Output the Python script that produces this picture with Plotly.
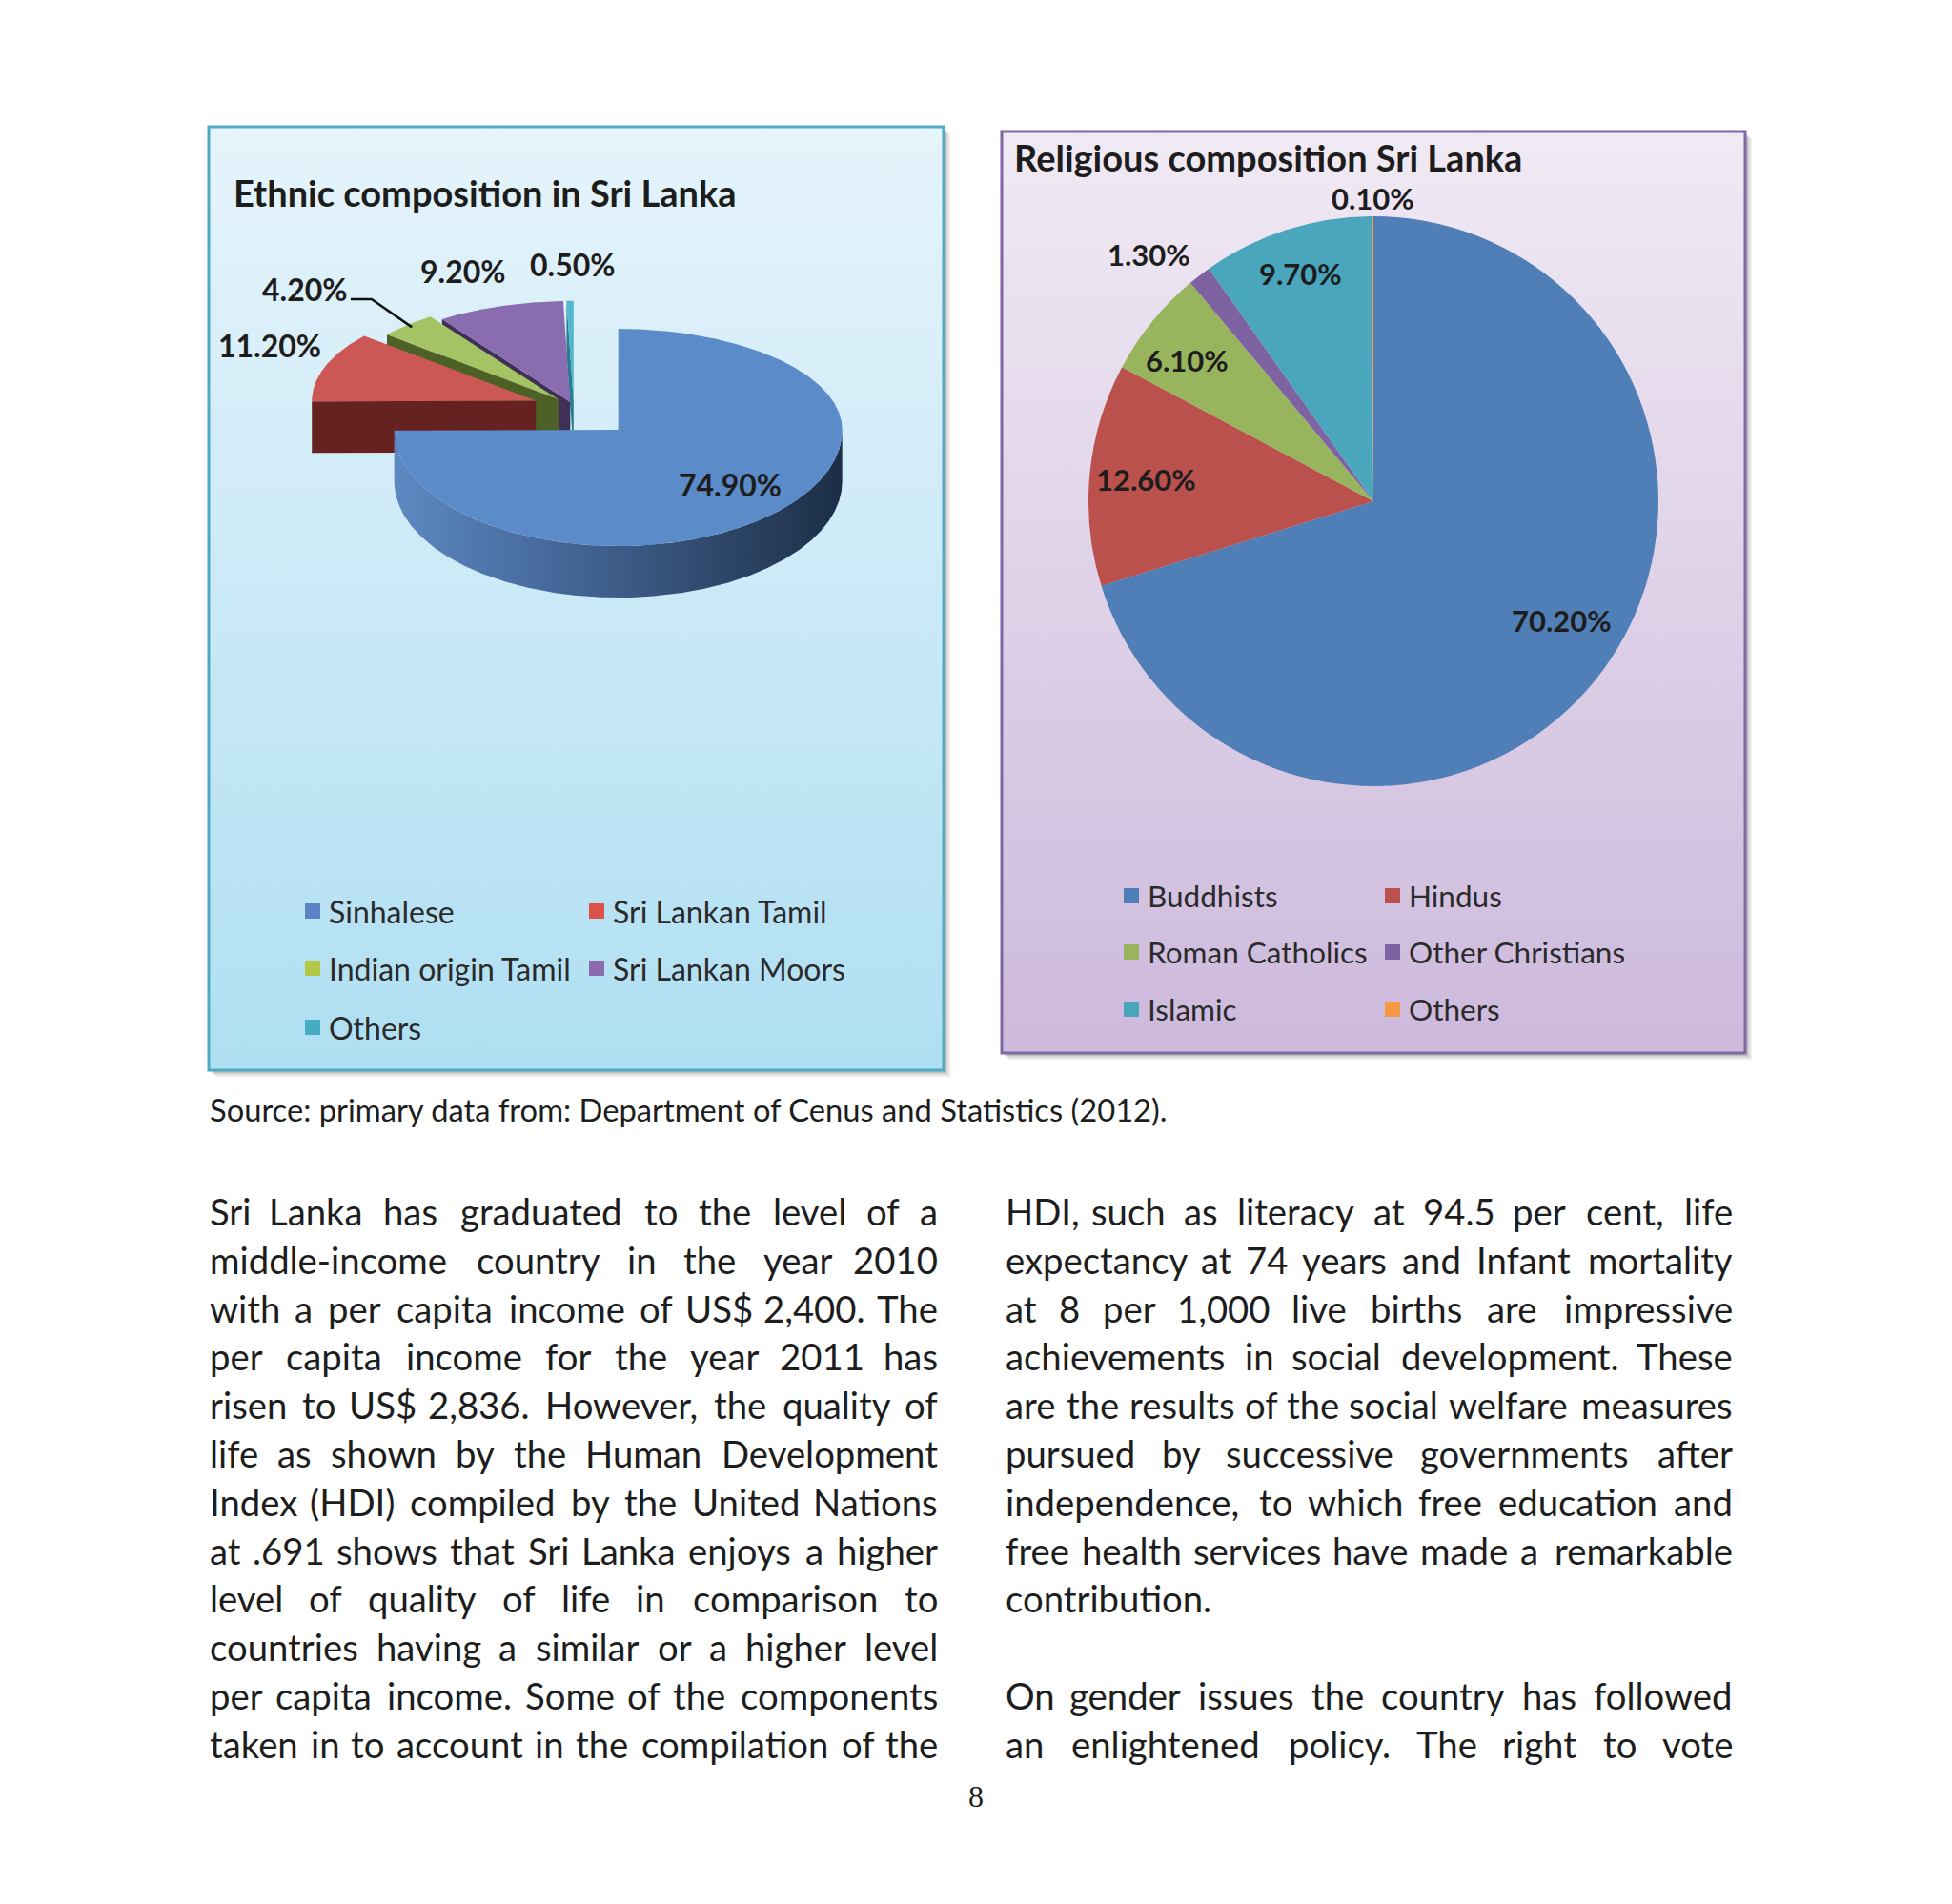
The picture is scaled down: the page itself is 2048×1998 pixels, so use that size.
import numpy as np
import plotly.graph_objects as go

# ---------------- data ----------------
ethnic_title = "Ethnic composition in Sri Lanka"
ethnic_labels = ["Sinhalese", "Sri Lankan Tamil", "Indian origin Tamil", "Sri Lankan Moors", "Others"]
ethnic_values = [74.9, 11.2, 4.2, 9.2, 0.5]

religion_title = "Religious composition Sri Lanka"
religion_labels = ["Buddhists", "Hindus", "Roman Catholics", "Other Christians", "Islamic", "Others"]
religion_values = [70.2, 12.6, 6.1, 1.3, 9.7, 0.1]

source_text = "Source: primary data from: Department of Cenus and Statistics (2012)."

left_column = [
    "Sri Lanka has graduated to the level of a",
    "middle-income country in the year 2010",
    "with a per capita income of US$ 2,400. The",
    "per capita income for the year 2011 has",
    "risen to US$ 2,836. However, the quality of",
    "life as shown by the Human Development",
    "Index (HDI) compiled by the United Nations",
    "at .691 shows that Sri Lanka enjoys a higher",
    "level of quality of life in comparison to",
    "countries having a similar or a higher level",
    "per capita income. Some of the components",
    "taken in to account in the compilation of the",
]
right_column = [
    "HDI, such as literacy at 94.5 per cent, life",
    "expectancy at 74 years and Infant mortality",
    "at 8 per 1,000 live births are impressive",
    "achievements in social development. These",
    "are the results of the social welfare measures",
    "pursued by successive governments after",
    "independence, to which free education and",
    "free health services have made a remarkable",
    "contribution.",
    "",
    "On gender issues the country has followed",
    "an enlightened policy. The right to vote",
]
right_justified = [True, True, True, True, True, True, True, True, False, False, True, True]
page_number = "8"

# ---------------- page geometry / style ----------------
W, H = 2048, 1998
OFF = 8                      # default body margin of the html page
WF, HF = W - 2 * OFF, H - 2 * OFF
FONT = "Lato, 'Open Sans', sans-serif"
INK = "#1d1d1d"

ethnic_top = ["#5b8bc8", "#cb5854", "#a4c362", "#8a6db0", "#52b6cd"]
ethnic_side = ["#2c4a73", "#652220", "#4d6127", "#3f3058", "#2a7d90"]
ethnic_wall = [
    [[0, "#5d89c2"], [0.35, "#46699b"], [0.75, "#2c4566"], [1, "#1c2e46"]],
    [[0, "#7a2a27"], [1, "#5a1d1b"]],
    [[0, "#55692c"], [1, "#44561f"]],
    [[0, "#4a3a66"], [1, "#3a2c52"]],
    [[0, "#2f8799"], [1, "#236a78"]],
]
ethnic_legend_col = ["#5b82c4", "#dc5148", "#b4c943", "#8b6aae", "#45acc3"]
ethnic_pull = [0.28, 0.18, 0.10, 0.05, 0.05]
ethnic_label_k = [0.69, 1.31, 1.57, 1.38, 1.365]
ethnic_label_da = [1.4, -5.0, 3.7, 1.9, -0.8]

religion_colors = ["#4f7fb6", "#bb514c", "#98b45c", "#7d63a1", "#4aa6bc", "#f59843"]
religion_label_r = [0.78, 0.80, 0.82, 1.17, 0.84, 1.065]
religion_label_da = [4.0, 0.0, 2.0, 4.6, 0.0, 0.0]

# Calibri-like advance widths (em) used to estimate Lato text widths for justification
CAL = {" ": .226, ".": .252, ",": .250, "(": .303, ")": .303, "$": .507, "-": .306, ":": .268, "%": .715}
CAL.update(dict(zip("abcdefghijklmnopqrstuvwxyz",
                    [.479, .525, .423, .525, .498, .305, .471, .525, .229, .239, .455, .229, .799,
                     .525, .527, .525, .525, .349, .391, .335, .525, .452, .715, .433, .453, .395])))
CAL.update(dict(zip("ABCDEFGHIJKLMNOPQRSTUVWXYZ",
                    [.579, .544, .533, .615, .488, .459, .631, .623, .252, .319, .520, .420, .855,
                     .646, .662, .517, .673, .543, .459, .487, .642, .567, .890, .519, .487, .468])))
CAL.update({d: .507 for d in "0123456789"})
LATO_K = 1.086


def est_w(s, size):
    return sum(CAL.get(c, .5) for c in s) * size * LATO_K


fig = go.Figure()
annotations = []
shapes = []


def text(x, y, s, size, bold=False, xanchor="left", family=FONT, color=INK):
    if bold:
        s = "<b>" + s + "</b>"
    annotations.append(dict(x=x, y=y, xref="x", yref="y", text=s, showarrow=False,
                            xanchor=xanchor, yanchor="middle", borderpad=0,
                            font=dict(family=family, size=size, color=color)))


def poly(xs, ys, color=None, grad=None):
    kw = dict(x=list(xs), y=list(ys), mode="lines", fill="toself", line=dict(width=0),
              hoverinfo="skip", showlegend=False)
    if grad is not None:
        kw["fillgradient"] = grad
        kw["fillcolor"] = grad["colorscale"][0][1]
    else:
        kw["fillcolor"] = color
    fig.add_trace(go.Scatter(**kw))


# ---------------- chart boxes ----------------
boxes = [
    dict(x0=219, y0=133, x1=990, y1=1123, c0="#e6f4fb", c1="#afdff2", border="#4fa9c2"),
    dict(x0=1051, y0=138, x1=1831, y1=1105, c0="#f0eaf4", c1="#cdb9dc", border="#8066a3"),
]
for b in boxes:
    for d, a in ((7, 0.07), (5, 0.09), (3, 0.12)):
        shapes.append(dict(type="rect", xref="x", yref="y", x0=b["x0"] + d, y0=b["y0"] + d,
                           x1=b["x1"] + d, y1=b["y1"] + d, line=dict(width=0),
                           fillcolor=f"rgba(0,0,0,{a})", layer="below"))
    poly([b["x0"], b["x1"], b["x1"], b["x0"], b["x0"]], [b["y0"], b["y0"], b["y1"], b["y1"], b["y0"]],
         grad=dict(type="vertical", colorscale=[[0, b["c0"]], [1, b["c1"]]], start=b["y0"], stop=b["y1"]))
    shapes.append(dict(type="rect", xref="x", yref="y", x0=b["x0"], y0=b["y0"], x1=b["x1"], y1=b["y1"],
                       line=dict(color=b["border"], width=3), fillcolor="rgba(0,0,0,0)", layer="above"))

# ---------------- 3-D ethnic pie ----------------
CX, CY, RX, RYB, RYF, DEPTH = 602, 427, 235, 106, 122, 54


def ry_of(a):
    return np.where(np.sin(np.radians(a)) > 0, RYB, RYF)


def pie3d(values):
    total = float(sum(values))
    info, cum = [], 0.0
    for i, v in enumerate(values):
        hi = 90 - 360 * cum / total
        cum += v
        lo = 90 - 360 * cum / total
        mid = (lo + hi) / 2
        px = CX + ethnic_pull[i] * RX * np.cos(np.radians(mid))
        py = CY - ethnic_pull[i] * float(ry_of(mid)) * np.sin(np.radians(mid))
        info.append(dict(i=i, lo=lo, hi=hi, mid=mid, px=px, py=py))
    for d in sorted(info, key=lambda d: -np.sin(np.radians(d["mid"]))):
        i, px, py = d["i"], d["px"], d["py"]

        def P(a):
            r = np.radians(a)
            return px + RX * np.cos(r), py - ry_of(a) * np.sin(r)

        for a, vis in ((d["lo"], np.cos(np.radians(d["lo"])) > 1e-9),
                       (d["hi"], np.cos(np.radians(d["hi"])) < -1e-9)):
            if vis:
                x1, y1 = P(a)
                poly([px, x1, x1, px, px], [py, y1, y1 + DEPTH, py + DEPTH, py], ethnic_side[i])
        for k in range(-2, 3):
            a0, a1 = max(d["lo"], -180 + 360 * k), min(d["hi"], 360 * k)
            if a1 - a0 > 0.05:
                t = np.linspace(a0, a1, int((a1 - a0) * 2) + 2)
                xt, yt = P(t)
                xs = np.concatenate([xt, xt[::-1], xt[:1]])
                ys = np.concatenate([yt, yt[::-1] + DEPTH, yt[:1]])
                poly(xs, ys, grad=dict(type="horizontal", colorscale=ethnic_wall[i],
                                       start=float(xs.min()), stop=float(xs.max())))
        t = np.linspace(d["lo"], d["hi"], int((d["hi"] - d["lo"]) * 2) + 2)
        xt, yt = P(t)
        poly(np.concatenate([[px], xt, [px]]), np.concatenate([[py], yt, [py]]), ethnic_top[i])
    return info


einfo = pie3d(ethnic_values)
for d, v, k, da in zip(einfo, ethnic_values, ethnic_label_k, ethnic_label_da):
    a = d["mid"] + da
    r = np.radians(a)
    lx = d["px"] + k * RX * np.cos(r)
    ly = d["py"] - k * float(ry_of(a)) * np.sin(r)
    text(lx, ly, f"{v:.2f}%", 32, bold=True, xanchor="center")
    d["lx"], d["ly"] = lx, ly
# leader line for the small green label
g = einfo[2]
r = np.radians(g["mid"])
ex, ey = g["px"] + 0.97 * RX * np.cos(r), g["py"] - 0.97 * RYB * np.sin(r)
sx, sy = g["lx"] + 48, g["ly"] + 10
shapes.append(dict(type="path", xref="x", yref="y",
                   path=f"M {sx},{sy} L {sx + 22},{sy} L {ex},{ey}",
                   line=dict(color="#111111", width=2.5)))

text(244, 202, ethnic_title, 38, bold=True)

# ethnic legend
leg_pos_e = [(328, 956), (626, 956), (328, 1016), (626, 1016), (328, 1078)]
fig.add_trace(go.Scatter(x=[p[0] for p in leg_pos_e], y=[p[1] for p in leg_pos_e], mode="markers",
                         marker=dict(symbol="square", size=16, color=ethnic_legend_col, line=dict(width=0)),
                         hoverinfo="skip", showlegend=False))
for (x, y), lab in zip(leg_pos_e, ethnic_labels):
    text(x + 16, y, lab, 32, color="#2a2a2a")

# ---------------- religious pie ----------------
PCX, PCY, PR = 1441, 526, 299
fig.add_trace(go.Pie(values=religion_values, labels=religion_labels, sort=False, direction="clockwise",
                     rotation=0, textinfo="none", hoverinfo="skip", showlegend=False,
                     marker=dict(colors=religion_colors, line=dict(width=0)),
                     domain=dict(x=[(PCX - PR - OFF) / WF, (PCX + PR - OFF) / WF],
                                 y=[1 - (PCY + PR - OFF) / HF, 1 - (PCY - PR - OFF) / HF])))
tot = float(sum(religion_values))
cum = 0.0
for v, rf, da in zip(religion_values, religion_label_r, religion_label_da):
    hi = 90 - 360 * cum / tot
    cum += v
    lo = 90 - 360 * cum / tot
    a = np.radians((lo + hi) / 2 + da)
    text(PCX + rf * PR * np.cos(a), PCY - rf * PR * np.sin(a), f"{v:.2f}%", 31, bold=True, xanchor="center")

text(1063, 165, religion_title, 38, bold=True)

leg_pos_r = [(1187, 940), (1461, 940), (1187, 999), (1461, 999), (1187, 1059), (1461, 1059)]
fig.add_trace(go.Scatter(x=[p[0] for p in leg_pos_r], y=[p[1] for p in leg_pos_r], mode="markers",
                         marker=dict(symbol="square", size=16, color=religion_colors, line=dict(width=0)),
                         hoverinfo="skip", showlegend=False))
for (x, y), lab in zip(leg_pos_r, religion_labels):
    text(x + 16, y, lab, 31.5, color="#2a2a2a")

# ---------------- source + body text ----------------
text(219, 1164, source_text, 32.7)

BODY = 38.3
Y0, DY = 1271, 50.8


def column(lines, x0, x1, just):
    for n, (line, j) in enumerate(zip(lines, just)):
        y = Y0 + n * DY
        if not line:
            continue
        words = line.split(" ")
        if not j or len(words) == 1:
            text(x0, y, line, BODY)
            continue
        ws = [est_w(w, BODY) for w in words]
        gap = (x1 - x0 - sum(ws)) / (len(words) - 1)
        pos = x0
        for k, (w, ww) in enumerate(zip(words, ws)):
            if k == 0:
                text(x0, y, w, BODY, xanchor="left")
            elif k == len(words) - 1:
                text(x1, y, w, BODY, xanchor="right")
            else:
                text(pos + ww / 2, y, w, BODY, xanchor="center")
            pos += ww + gap


column(left_column, 219, 985, [True] * len(left_column))
column(right_column, 1054, 1819, right_justified)

text(1024, 1885, page_number, 32, xanchor="center", family="'Liberation Serif', 'DejaVu Serif', serif")

fig.update_layout(
    width=WF, height=HF, margin=dict(l=0, r=0, t=0, b=0, autoexpand=False),
    paper_bgcolor="white", plot_bgcolor="white", showlegend=False,
    xaxis=dict(range=[OFF, OFF + WF], visible=False, fixedrange=True, domain=[0, 1]),
    yaxis=dict(range=[OFF + HF, OFF], visible=False, fixedrange=True, domain=[0, 1]),
    annotations=annotations, shapes=shapes,
)
fig.write_html("out.html")
